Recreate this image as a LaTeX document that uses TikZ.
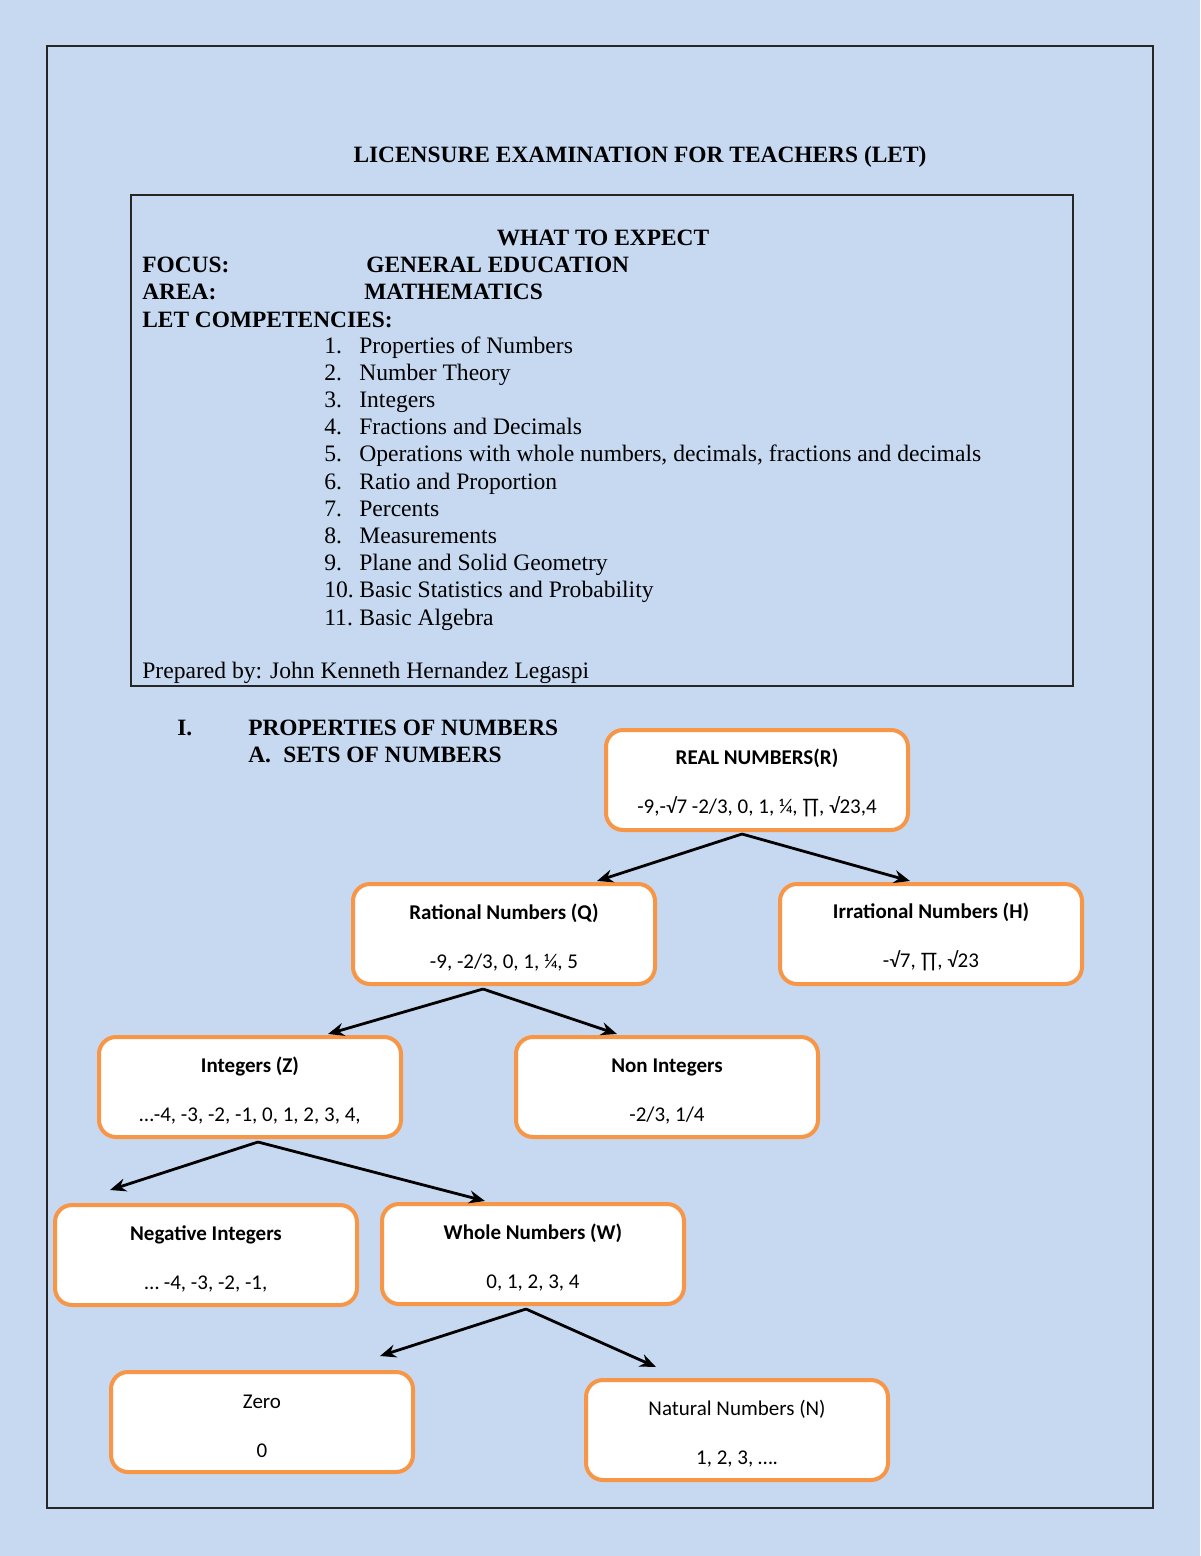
\documentclass[tikz,border=0pt]{standalone}
\usepackage{fontspec}
\setmainfont{Liberation Serif}
\newfontfamily\calfont{Carlito}
\usetikzlibrary{arrows.meta}

\definecolor{pageblue}{HTML}{C6D9F1}
\definecolor{setorange}{HTML}{F79646}

\tikzset{
  setbox/.style={draw=setorange,fill=white,line width=4pt,rounded corners=17pt,
    minimum width=302pt,minimum height=100pt,inner sep=0pt,align=center,
    font=\calfont\fontsize{21}{49}\selectfont},
  head/.style={anchor=base west,inner sep=0pt,font=\fontsize{23.4}{27}\selectfont\bfseries},
  item/.style={anchor=base west,inner sep=0pt,font=\fontsize{23.6}{27}\selectfont},
  setarrow/.style={draw,line width=2.8pt,-{Stealth[length=16pt,width=13pt]}},
}
\newcommand{\settop}{\rule{0pt}{22pt}}

\begin{document}
\begin{tikzpicture}[x=1pt,y=-1pt,semithick]

% page and frames
\fill[pageblue] (0,0) rectangle (1200,1556);
\draw[line width=2.2pt,black!85] (47,46) rectangle (1153,1508);
\draw[line width=1.8pt,black!85] (131,195) rectangle (1073,686);

\node[head,anchor=base] (title) at (640,162) {LICENSURE EXAMINATION FOR TEACHERS (LET)};

% what to expect
\node[head,anchor=base] (expect) at (603,245) {WHAT TO EXPECT};
\node[head] (focus)    at (142,272) {FOCUS:};
\node[head] (focusval) at (366,272) {GENERAL EDUCATION};
\node[head] (area)     at (142,299) {AREA:};
\node[head] (areaval)  at (364,299) {MATHEMATICS};
\node[head] (comp)     at (142,327) {LET COMPETENCIES:};

\foreach \txt [count=\i] in {Properties of Numbers, Number Theory, Integers,
    Fractions and Decimals, {Operations with whole numbers, decimals, fractions and decimals},
    Ratio and Proportion, Percents, Measurements, Plane and Solid Geometry,
    Basic Statistics and Probability, Basic Algebra}
{
  \node[item] (n\i) at (324,{353+27.2*(\i-1)}) {\i.};
  \node[item] (c\i) at (359,{353+27.2*(\i-1)}) {\txt};
}

\node[item] (prep) at (142,678) {Prepared by: John Kenneth Hernandez Legaspi};

% section heading
\node[head] (secI)  at (177,735) {I.};
\node[head] (secIt) at (248,735) {PROPERTIES OF NUMBERS};
\node[head] (secA)  at (248,762) {A.};
\node[head] (secAt) at (283,762) {SETS OF NUMBERS};

% sets of numbers
\node[setbox] (real)   at (757,780)  {\settop\textbf{REAL NUMBERS(R)}\\-9,-√7 -2/3, 0, 1, ¼, ∏, √23,4};
\node[setbox] (rat)    at (504,934)  {\settop\textbf{Rational Numbers (Q)}\\-9, -2/3, 0, 1, ¼, 5};
\node[setbox] (irr)    at (931,934)  {\settop\textbf{Irrational Numbers (H)}\\-√7, ∏, √23};
\node[setbox] (intg)   at (250,1087) {\settop\textbf{Integers (Z)}\\…-4, -3, -2, -1, 0, 1, 2, 3, 4,};
\node[setbox] (nonint) at (667,1087) {\settop\textbf{Non Integers}\\-2/3, 1/4};
\node[setbox] (neg)    at (206,1255) {\settop\textbf{Negative Integers}\\… -4, -3, -2, -1,};
\node[setbox] (whole)  at (533,1254) {\settop\textbf{Whole Numbers (W)}\\0, 1, 2, 3, 4};
\node[setbox] (zero)   at (262,1422) {\settop Zero\\0};
\node[setbox] (nat)    at (737,1430) {\settop Natural Numbers (N)\\1, 2, 3, ….};

\coordinate (realfoot)  at (742,834);
\coordinate (ratfoot)   at (483,989);
\coordinate (intfoot)   at (258,1142);
\coordinate (wholefoot) at (526,1309);
\coordinate (ratin)    at (597,881);
\coordinate (irrin)    at (910,881);
\coordinate (intin)    at (328,1034);
\coordinate (nonin)    at (617,1034);
\coordinate (negin)    at (110,1190);
\coordinate (wholein)  at (485,1201);
\coordinate (zeroin)   at (380,1356);
\coordinate (natin)    at (656,1367);

\draw[setarrow] (realfoot) -- (ratin);
\draw[setarrow] (realfoot) -- (irrin);
\draw[setarrow] (ratfoot) -- (intin);
\draw[setarrow] (ratfoot) -- (nonin);
\draw[setarrow] (intfoot) -- (negin);
\draw[setarrow] (intfoot) -- (wholein);
\draw[setarrow] (wholefoot) -- (zeroin);
\draw[setarrow] (wholefoot) -- (natin);
\end{tikzpicture}
\end{document}
